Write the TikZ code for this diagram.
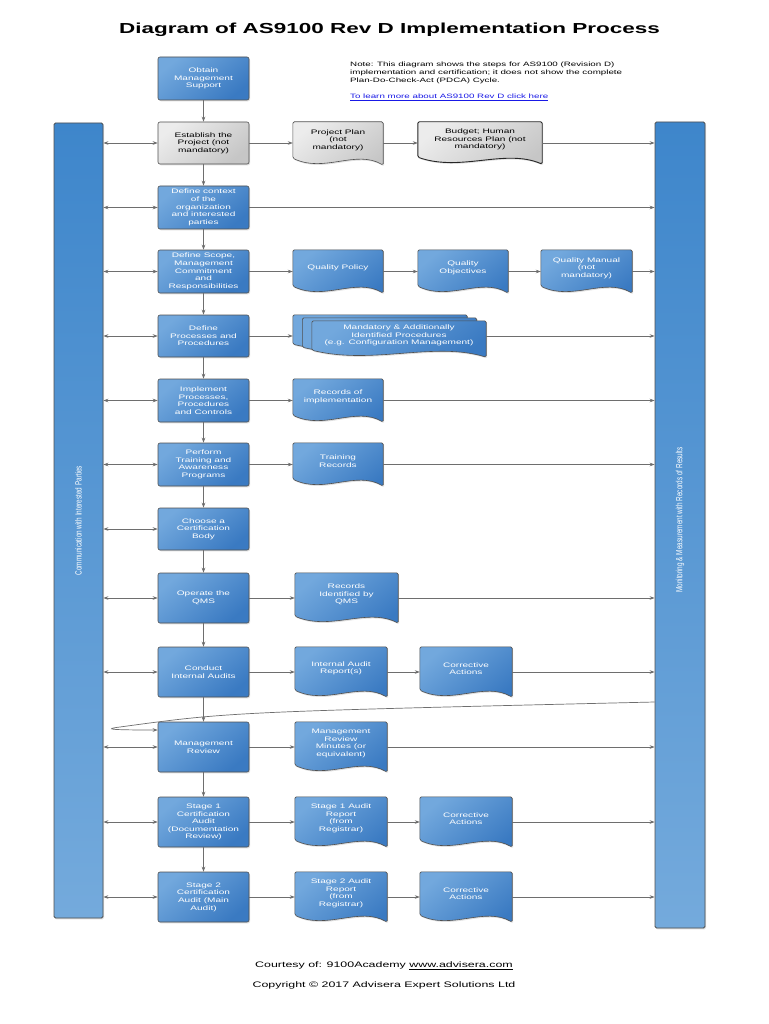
\documentclass[tikz,border=0pt]{standalone}
\usepackage{fontspec}
\setmainfont[FakeStretch=1.55]{Liberation Sans}
\newfontfamily\narrowsans[FakeStretch=0.71]{Liberation Sans}
\usetikzlibrary{arrows.meta,shadows,backgrounds,calc}

\definecolor{boxlight}{RGB}{114,168,221}
\definecolor{boxdark}{RGB}{58,122,194}
\definecolor{barlight}{RGB}{116,170,220}
\definecolor{bardark}{RGB}{62,134,203}
\definecolor{greylight}{RGB}{236,236,236}
\definecolor{greydark}{RGB}{198,198,198}
\definecolor{edge}{RGB}{80,80,80}
\definecolor{wire}{RGB}{110,110,110}
\definecolor{linkblue}{RGB}{25,25,230}

\newcommand{\boxtext}{\fontsize{6.5}{7.6}\selectfont}
% document shape drawn round a node: flat top, wavy bottom
\newcommand{\docwave}[3][xshift=0pt]{%
  \path[#2] let \p1=([#1]#3.north west), \p2=([#1]#3.south east) in
    (\x1,\y1) -- (\x2,\y1) -- (\x2,{\y2-7pt})
    .. controls ({\x2-0.3*(\x2-\x1)},{\y2+9pt}) and ({\x1+0.35*(\x2-\x1)},{\y2-15pt}) .. (\x1,\y2) -- cycle;}

\begin{document}
\begin{tikzpicture}[x=1pt, y=-1pt,
  every node/.style={inner sep=0pt},
  box/.style={draw=edge, line width=0.6pt, rounded corners=2pt, inner sep=1pt,
    top color=boxlight, bottom color=boxdark, shading angle=40,
    text=white, font=\boxtext, align=center, minimum width=91pt, minimum height=43pt,
    drop shadow={shadow xshift=1pt, shadow yshift=-1.3pt, opacity=0.25}},
  tallbox/.style={box, minimum height=50pt},
  greybox/.style={box, top color=greylight, bottom color=greydark, shading angle=40, text=black},
  doc/.style={text=white, font=\boxtext, align=center, minimum width=90pt, minimum height=36pt},
  talldoc/.style={doc, minimum width=92pt, minimum height=43pt},
  paper/.style={draw=edge, line width=0.6pt, rounded corners=1.5pt,
    top color=boxlight, bottom color=boxdark, shading angle=40,
    drop shadow={shadow xshift=1pt, shadow yshift=-1.3pt, opacity=0.25}},
  greypaper/.style={paper, top color=greylight, bottom color=greydark, shading angle=40},
  budgetpaper/.style={greypaper, draw=black!85, line width=0.9pt},
  bar/.style={draw=edge, line width=0.8pt, rounded corners=1.5pt,
    top color=bardark, bottom color=barlight,
    drop shadow={shadow xshift=1pt, shadow yshift=-1.3pt, opacity=0.25}},
  bartext/.style={rotate=90, text=white, font=\narrowsans\fontsize{9}{10}\selectfont},
  flow/.style={draw=wire, line width=0.7pt, -{Stealth[length=5pt,width=3.6pt]}},
  both/.style={flow, {Stealth[length=5pt,width=3.6pt]}-{Stealth[length=5pt,width=3.6pt]}},
  remark/.style={font=\fontsize{6.3}{7.7}\selectfont, align=left, anchor=north west},
  footer/.style={font=\fontsize{8}{9.6}\selectfont}
]
\useasboundingbox (0,0) rectangle (768,1024);

\node[font=\fontsize{14.5}{17}\selectfont\bfseries] (title) at (389.5,30)
  {Diagram of AS9100 Rev D Implementation Process};
\node[remark] (note) at (350,62) {Note: This diagram shows the steps for AS9100 (Revision D)\\
  implementation and certification; it does not show the complete\\
  Plan-Do-Check-Act (PDCA) Cycle.};
\node[remark, text=linkblue] (link) at (350,93.5) {\underline{To learn more about AS9100 Rev D click here}};

% side bars
\node[bar, minimum width=49pt, minimum height=795pt] (comm) at (78.5,520.5) {};
\node[bartext] (commlabel) at (comm) {Communication with Interested Parties};
\node[bar, minimum width=50pt, minimum height=806pt] (monitor) at (680,525) {};
\node[bartext] (monitorlabel) at ([yshift=5pt]monitor) {Monitoring \& Measurement with Records of Results};

% main column
\node[box] (obtain) at (203.5,78.5) {Obtain\\Management\\Support};
\node[greybox, minimum height=42pt] (establish) at (203.5,143) {Establish the\\Project (not\\mandatory)};
\node[box] (context) at (203.5,207.5) {Define context\\of the\\organization\\and interested\\parties};
\node[box] (scope) at (203.5,271.5) {Define Scope,\\Management\\Commitment\\and\\Responsibilities};
\node[box, minimum height=42pt] (processes) at (203.5,336) {Define\\Processes and\\Procedures};
\node[box] (implement) at (203.5,400.5) {Implement\\Processes,\\Procedures\\and Controls};
\node[box] (training) at (203.5,464.5) {Perform\\Training and\\Awareness\\Programs};
\node[box, minimum height=42pt] (choose) at (203.5,529) {Choose a\\Certification\\Body};
\node[tallbox] (operate) at (203.5,598) {Operate the\\QMS};
\node[tallbox] (conduct) at (203.5,672) {Conduct\\Internal Audits};
\node[tallbox] (review) at (203.5,747) {Management\\Review};
\node[tallbox] (stage1) at (203.5,822) {Stage 1\\Certification\\Audit\\(Documentation\\Review)};
\node[tallbox] (stage2) at (203.5,897) {Stage 2\\Certification\\Audit (Main\\Audit)};

% documents
\node[doc, text=black] (projplan) at (338,140) {Project Plan\\(not\\mandatory)};
\node[doc, text=black, minimum width=124pt, minimum height=35pt] (budget) at (480,139.5) {Budget; Human\\Resources Plan (not\\mandatory)};
\node[doc] (policy) at (338,268) {Quality Policy};
\node[doc] (objectives) at (463,268) {Quality\\Objectives};
\node[doc, minimum width=91pt] (manual) at (586.5,268) {Quality Manual\\(not\\mandatory)};
\node[doc, minimum width=174pt, minimum height=29pt] (procs) at (399,335.5) {Mandatory \& Additionally\\Identified Procedures\\(e.g. Configuration Management)};
\coordinate (procsback) at ([xshift=-19pt]procs.west);
\node[doc] (recimpl) at (338,397) {Records of\\implementation};
\node[doc] (trainrec) at (338,461) {Training\\Records};
\node[talldoc, minimum width=103pt] (recqms) at (346.5,594.5) {Records\\Identified by\\QMS};
\node[talldoc] (iaudit) at (341,668.5) {Internal Audit\\Report(s)};
\node[talldoc] (corr1) at (466,668.5) {Corrective\\Actions};
\node[talldoc] (minutes) at (341,743.5) {Management\\Review\\Minutes (or\\equivalent)};
\node[talldoc] (s1report) at (341,818.5) {Stage 1 Audit\\Report\\(from\\Registrar)};
\node[talldoc] (corr2) at (466,818.5) {Corrective\\Actions};
\node[talldoc] (s2report) at (341,893.5) {Stage 2 Audit\\Report\\(from\\Registrar)};
\node[talldoc] (corr3) at (466,893.5) {Corrective\\Actions};

\begin{scope}[on background layer]
  \fill[white] (0,0) rectangle (768,1024);
  \docwave{greypaper}{projplan}
  \docwave{budgetpaper}{budget}
  \docwave[xshift=-19pt,yshift=6pt]{paper}{procs}
  \docwave[xshift=-9.5pt,yshift=3pt]{paper}{procs}
  \foreach \d in {policy, objectives, manual, procs, recimpl, trainrec, recqms,
    iaudit, corr1, minutes, s1report, corr2, s2report, corr3}
    {\docwave{paper}{\d}}
\end{scope}

% connectors
\foreach \a/\b in {obtain/establish, establish/context, context/scope, scope/processes,
  processes/implement, implement/training, training/choose, choose/operate,
  operate/conduct, conduct/review, review/stage1, stage1/stage2}
  \draw[flow] (\a) -- (\b);

\foreach \s in {establish, context, scope, processes, implement, training, choose,
  operate, conduct, review, stage1, stage2}
  \draw[both] (comm.east |- \s) -- (\s);

\foreach \r/\a/\b in {establish/establish/projplan, establish/projplan/budget, establish/budget/monitor,
  context/context/monitor,
  scope/scope/policy, scope/policy/objectives, scope/objectives/manual, scope/manual/monitor,
  processes/procs/monitor,
  implement/implement/recimpl, implement/recimpl/monitor,
  training/training/trainrec, training/trainrec/monitor,
  operate/operate/recqms, operate/recqms/monitor,
  conduct/conduct/iaudit, conduct/iaudit/corr1, conduct/corr1/monitor,
  review/review/minutes, review/minutes/monitor,
  stage1/stage1/s1report, stage1/s1report/corr2, stage1/corr2/monitor,
  stage2/stage2/s2report, stage2/s2report/corr3, stage2/corr3/monitor}
  \draw[flow] (\r -| \a.east) -- (\r -| \b.west);
\draw[flow] (processes) -- (processes -| procsback);

% loop back into the review
\coordinate (fb) at (monitor.west |- 0,702);
\coordinate (loop) at (120,727);
\draw[flow] (fb) .. controls (230,712) .. (loop)
  .. controls +(-16,2) and +(-50,0) .. ([yshift=17pt]review.west);

\node[footer] (courtesy) at (384,966) {Courtesy of: 9100Academy \underline{www.advisera.com}};
\node[footer] (copyright) at (384,985) {Copyright © 2017 Advisera Expert Solutions Ltd};
\end{tikzpicture}
\end{document}
